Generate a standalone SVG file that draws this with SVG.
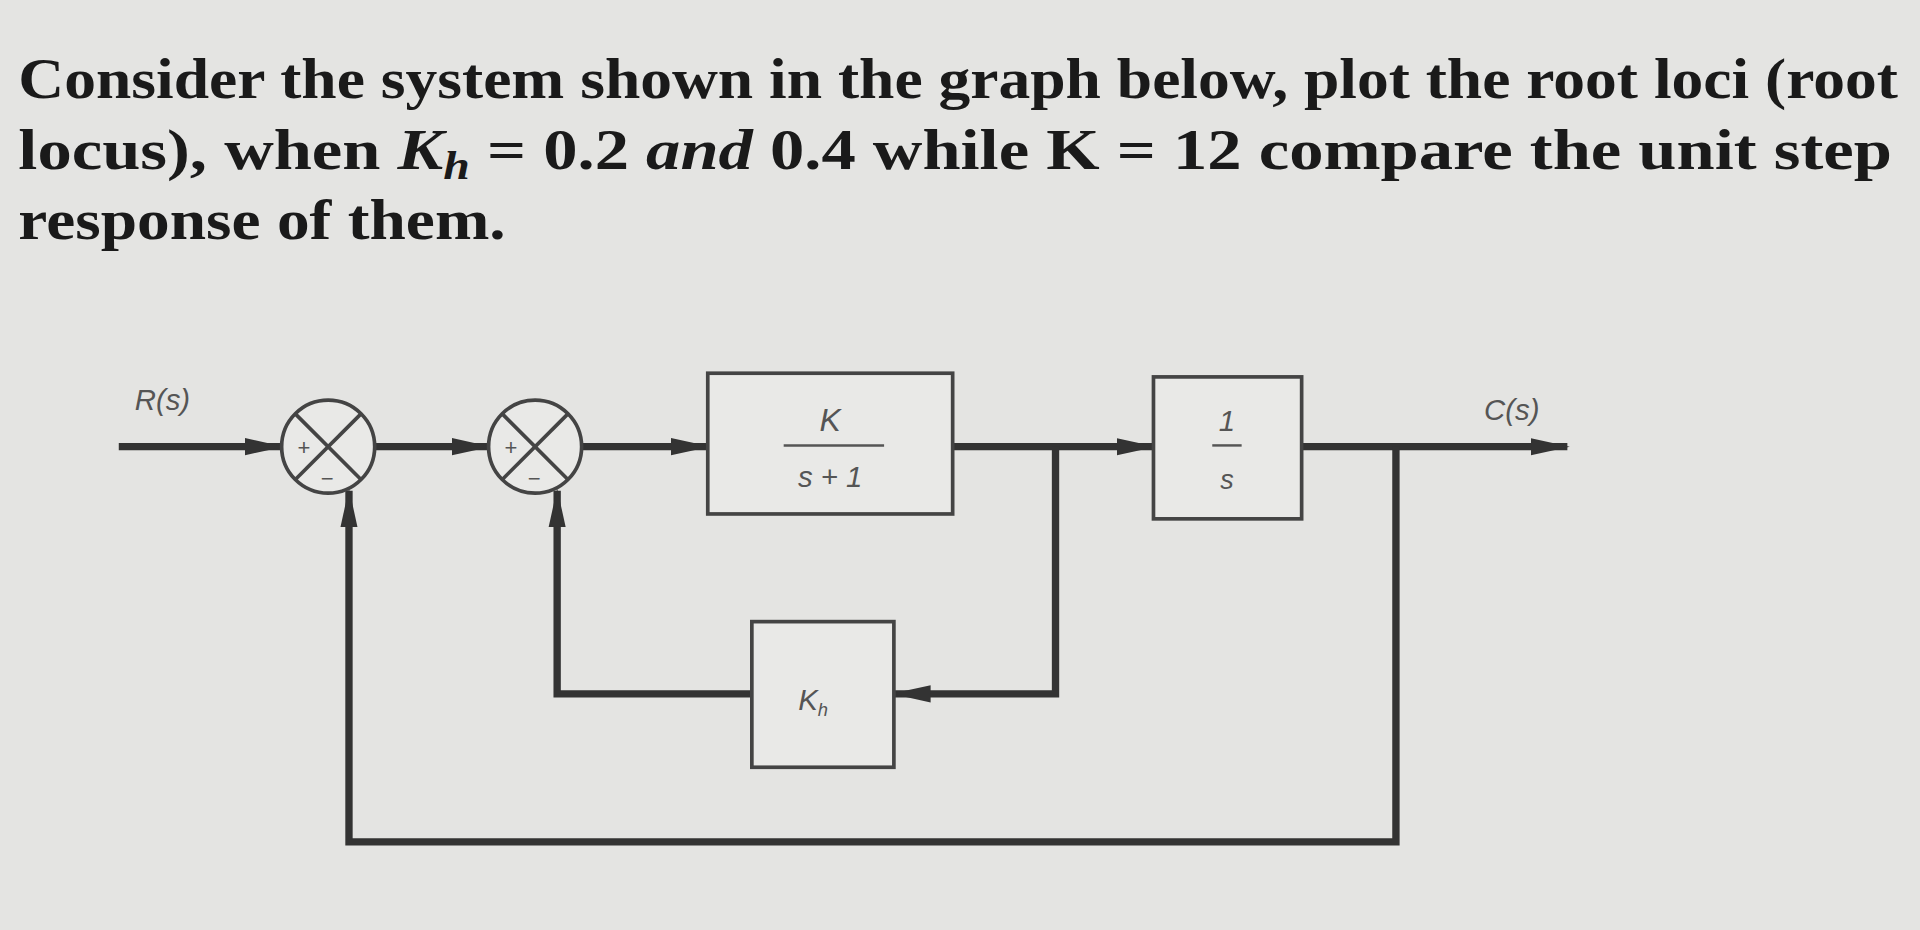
<svg xmlns="http://www.w3.org/2000/svg" width="1920" height="930" viewBox="0 0 1920 930">
<defs>
<marker id="ah" markerWidth="32" markerHeight="18" refX="30" refY="9" orient="auto" markerUnits="userSpaceOnUse"><path d="M0,2 L32,9 L0,16 z" fill="#333"/></marker>
<style>
.w{stroke:#333;stroke-width:6;fill:none}
.b{stroke:#444;stroke-width:3;fill:#e9e9e7}
.c{stroke:#444;stroke-width:3;fill:#e9e9e7}
.t{font-family:"Liberation Serif",serif;font-size:46px;font-weight:bold;fill:#1a1a1a}
.m{font-family:"Liberation Sans",sans-serif;font-style:italic;fill:#555}
</style>
</defs>
<rect width="1920" height="930" fill="#e4e4e2"/>
<g transform="scale(1.2245,1.2237)">
<g id="question">
<text class="t" x="15" y="80" textLength="1535" lengthAdjust="spacingAndGlyphs">Consider the system shown in the graph below, plot the root loci (root</text>
<text class="t" x="15" y="138" textLength="1530" lengthAdjust="spacingAndGlyphs">locus), when <tspan font-style="italic">K</tspan><tspan font-style="italic" font-size="32" dy="8">h</tspan><tspan dy="-8"> = 0.2 </tspan><tspan font-style="italic">and</tspan> 0.4 while K = 12 compare the unit step</text>
<text class="t" x="15" y="195" textLength="398" lengthAdjust="spacingAndGlyphs">response of them.</text>
</g>
<g id="connectors">
<line class="w" x1="97" y1="365" x2="230" y2="365" marker-end="url(#ah)"/>
<line class="w" x1="306" y1="365" x2="399" y2="365" marker-end="url(#ah)"/>
<line class="w" x1="475" y1="365" x2="578" y2="365" marker-end="url(#ah)"/>
<line class="w" x1="778" y1="365" x2="942" y2="365" marker-end="url(#ah)"/>
<line class="w" x1="1063" y1="365" x2="1280" y2="365" marker-end="url(#ah)"/>
<polyline class="w" points="862,365 862,567 730,567" marker-end="url(#ah)"/>
<polyline class="w" points="614,567 455,567 455,401" marker-end="url(#ah)"/>
<polyline class="w" points="1140,365 1140,688 285,688 285,401" marker-end="url(#ah)"/>
</g>
<g id="R"><text class="m" x="110" y="335" font-size="24">R(s)</text></g>
<g id="C"><text class="m" x="1212" y="343" font-size="24">C(s)</text></g>
<g id="sum1">
<circle class="c" cx="268" cy="365" r="38"/>
<line stroke="#444" stroke-width="3" x1="241" y1="338" x2="295" y2="392"/>
<line stroke="#444" stroke-width="3" x1="295" y1="338" x2="241" y2="392"/>
<text x="243" y="372" font-family="Liberation Sans,sans-serif" font-size="18" fill="#555">+</text>
<text x="262" y="397" font-family="Liberation Sans,sans-serif" font-size="18" fill="#555">−</text>
</g>
<g id="sum2">
<circle class="c" cx="437" cy="365" r="38"/>
<line stroke="#444" stroke-width="3" x1="410" y1="338" x2="464" y2="392"/>
<line stroke="#444" stroke-width="3" x1="464" y1="338" x2="410" y2="392"/>
<text x="412" y="372" font-family="Liberation Sans,sans-serif" font-size="18" fill="#555">+</text>
<text x="431" y="397" font-family="Liberation Sans,sans-serif" font-size="18" fill="#555">−</text>
</g>
<g id="G1">
<rect class="b" x="578" y="305" width="200" height="115"/>
<text class="m" x="678" y="352" font-size="26" text-anchor="middle">K</text>
<line stroke="#555" stroke-width="2" x1="640" y1="364" x2="722" y2="364"/>
<text class="m" x="678" y="398" font-size="24" text-anchor="middle">s + 1</text>
</g>
<g id="G2">
<rect class="b" x="942" y="308" width="121" height="116"/>
<text class="m" x="1002" y="352" font-size="24" text-anchor="middle" font-style="normal">1</text>
<line stroke="#555" stroke-width="2" x1="990" y1="364" x2="1014" y2="364"/>
<text class="m" x="1002" y="400" font-size="22" text-anchor="middle">s</text>
</g>
<g id="Kh">
<rect class="b" x="614" y="508" width="116" height="119"/>
<text class="m" x="664" y="580" font-size="24" text-anchor="middle">K<tspan font-size="15" dy="5">h</tspan></text>
</g>
</g>
</svg>
